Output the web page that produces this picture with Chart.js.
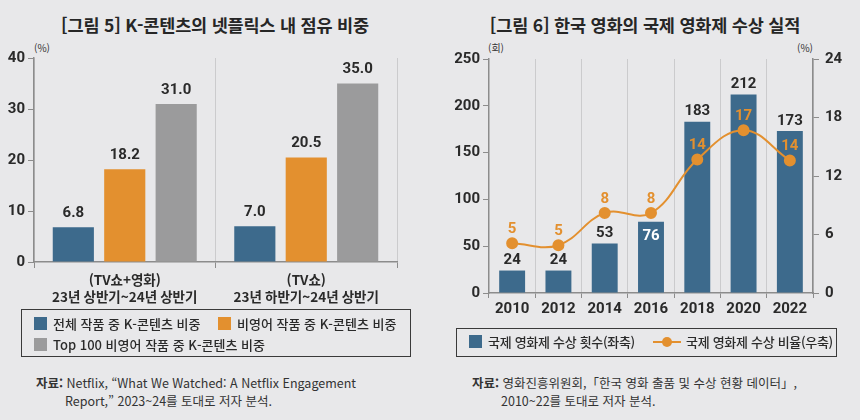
<!DOCTYPE html>
<html lang="ko">
<head>
<meta charset="utf-8">
<script src="https://cdn.jsdelivr.net/npm/chart.js@4/dist/chart.umd.min.js"></script>
<style>
    body {
        margin: 0;
        width: 860px;
        height: 420px;
        background: #e8e8ea;
        position: relative;
        overflow: hidden;
        font-family: "Noto Sans CJK KR", sans-serif;
        color: #2a2a2a;
    }
    .title {
        position: absolute;
        top: 12px;
        width: 430px;
        text-align: center;
        font-weight: 700;
        font-size: 17.5px;
        letter-spacing: -0.2px;
        color: #262626;
    }
    .unit {
        position: absolute;
        top: 40px;
        font-size: 10px;
        color: #333;
    }
    canvas { position: absolute; top: 0; }
    .legend {
        position: absolute;
        border: 1.5px solid #3a3a3a;
        box-sizing: border-box;
        font-size: 13px;
        font-weight: 500;
        color: #2a2a2a;
    }
    .item { position: absolute; display: flex; align-items: center; white-space: nowrap; }
    .box { width: 13px; height: 13px; margin-right: 6px; }
    .note {
        position: absolute;
        font-size: 12.5px;
        line-height: 18px;
        color: #333;
    }
    .note b { font-weight: 700; }
</style>
</head>
<body>
<div class="title" style="left:0">[그림 5] K-콘텐츠의 넷플릭스 내 점유 비중</div>
<div class="title" style="left:430px">[그림 6] 한국 영화의 국제 영화제 수상 실적</div>
<div class="unit" style="left:34px">(%)</div>
<div class="unit" style="left:488px">(회)</div>
<div class="unit" style="left:797px">(%)</div>

<canvas id="shareChart" width="430" height="310" style="left:0"></canvas>
<canvas id="awardChart" width="430" height="320" style="left:430px"></canvas>

<div class="legend" id="shareLegend" style="left:21px;top:309px;width:390px;height:48px"></div>
<div class="legend" id="awardLegend" style="left:456px;top:328px;width:381px;height:29px;letter-spacing:-0.3px"></div>

<div class="note" style="left:36px;top:374px">
    <b>자료:</b> Netflix, “What We Watched: A Netflix Engagement<br>
    <span style="padding-left:29px">Report,” 2023~24를 토대로 저자 분석.</span>
</div>
<div class="note" style="left:472px;top:374px">
    <b>자료:</b> 영화진흥위원회,「한국 영화 출품 및 수상 현황 데이터」,<br>
    <span style="padding-left:29px">2010~22를 토대로 저자 분석.</span>
</div>

<script>
// [그림 5] data
const shareGroups = [['(TV쇼+영화)', '23년 상반기~24년 상반기'], ['(TV쇼)', '23년 하반기~24년 상반기']];
const shareSeriesNames = ['전체 작품 중 K-콘텐츠 비중', '비영어 작품 중 K-콘텐츠 비중', 'Top 100 비영어 작품 중 K-콘텐츠 비중'];
const totalShare = [6.8, 7.0];
const nonEnglishShare = [18.2, 20.5];
const top100Share = [31.0, 35.0];
const shareTicks = [0, 10, 20, 30, 40];

// [그림 6] data
const years = ['2010', '2012', '2014', '2016', '2018', '2020', '2022'];
const awardSeriesNames = ['국제 영화제 수상 횟수(좌축)', '국제 영화제 수상 비율(우축)'];
const awardCounts = [24, 24, 53, 76, 183, 212, 173];
const awardRatio = [5.1, 4.9, 8.2, 8.2, 13.7, 16.7, 13.6];
const countTicks = [0, 50, 100, 150, 200, 250];
const ratioTicks = [0, 6, 12, 18, 24];

const BLUE = '#3d6a8c';
const ORANGE = '#e3902f';
const GRAY = '#9b9b9c';
const AXIS = '#8c8c8c';
const GRID = '#cbcbcd';
const NUM_FONT = 'Roboto, sans-serif';

// draws value labels for every element of a dataset that has a valueLabel option
const valueLabels = {
    id: 'valueLabels',
    afterDatasetsDraw(chart) {
        const ctx = chart.ctx;
        chart.data.datasets.forEach((ds, i) => {
            const opt = ds.valueLabel;
            if (!opt) return;
            const meta = chart.getDatasetMeta(i);
            meta.data.forEach((el, j) => {
                const color = Array.isArray(opt.color) ? opt.color[j] : opt.color;
                const dy = Array.isArray(opt.dy) ? opt.dy[j] : opt.dy;
                ctx.save();
                ctx.font = opt.font;
                ctx.fillStyle = color;
                ctx.textAlign = 'center';
                ctx.textBaseline = 'middle';
                ctx.fillText(opt.format(ds.data[j]), el.x, el.y + dy);
                ctx.restore();
            });
        });
    }
};

function tickOptions(size) {
    return { font: { family: NUM_FONT, weight: 'bold', size: size }, color: '#2a2a2a' };
}

new Chart(document.getElementById('shareChart'), {
    type: 'bar',
    data: {
        labels: shareGroups,
        datasets: [totalShare, nonEnglishShare, top100Share].map((values, i) => ({
            label: shareSeriesNames[i],
            data: values,
            backgroundColor: [BLUE, ORANGE, GRAY][i],
            barPercentage: 0.8,
            categoryPercentage: 0.85,
            valueLabel: {
                font: 'bold 15px ' + NUM_FONT,
                color: '#2a2a2a',
                dy: -14,
                format: v => v.toFixed(1)
            }
        }))
    },
    options: {
        responsive: false,
        animation: false,
        layout: { padding: { top: 58, right: 33, left: 0, bottom: 0 } },
        plugins: { legend: { display: false }, tooltip: { enabled: false } },
        scales: {
            x: {
                grid: { color: GRID, tickLength: 6, tickColor: AXIS },
                border: { color: AXIS, width: 1.5 },
                ticks: {
                    font: { family: '"Noto Sans CJK KR"', weight: 'bold', size: 13.5, lineHeight: 1.3 },
                    color: '#2a2a2a',
                    padding: 3
                },
                afterFit: s => { s.height = 48; }
            },
            y: {
                min: shareTicks[0],
                max: shareTicks[shareTicks.length - 1],
                afterBuildTicks: s => { s.ticks = shareTicks.map(v => ({ value: v })); },
                grid: { drawOnChartArea: false, tickLength: 6, color: AXIS },
                border: { color: AXIS, width: 1.5 },
                ticks: Object.assign(tickOptions(15), { padding: 3 }),
                afterFit: s => { s.width = 34; }
            }
        }
    },
    plugins: [valueLabels]
});

new Chart(document.getElementById('awardChart'), {
    type: 'bar',
    data: {
        labels: years,
        datasets: [{
            type: 'line',
            label: awardSeriesNames[1],
            data: awardRatio,
            yAxisID: 'y1',
            borderColor: ORANGE,
            borderWidth: 2,
            pointBackgroundColor: ORANGE,
            pointBorderColor: ORANGE,
            pointRadius: 5,
            tension: 0.4,
            order: 0,
            valueLabel: {
                font: 'bold 15px ' + NUM_FONT,
                color: ORANGE,
                dy: -14,
                format: v => Math.round(v)
            }
        }, {
            type: 'bar',
            label: awardSeriesNames[0],
            data: awardCounts,
            yAxisID: 'y',
            backgroundColor: BLUE,
            barPercentage: 0.56,
            categoryPercentage: 1,
            order: 1,
            valueLabel: {
                font: 'bold 15px ' + NUM_FONT,
                color: ['#2a2a2a', '#2a2a2a', '#2a2a2a', '#ffffff', '#2a2a2a', '#2a2a2a', '#2a2a2a'],
                dy: [-10, -10, -10, 14, -10, -10, -10],
                format: v => v
            }
        }]
    },
    options: {
        responsive: false,
        animation: false,
        layout: { padding: { top: 59, right: 0, left: 0, bottom: 0 } },
        plugins: { legend: { display: false }, tooltip: { enabled: false } },
        scales: {
            x: {
                grid: { color: GRID, tickLength: 5, tickColor: AXIS },
                border: { color: AXIS, width: 1.5 },
                ticks: Object.assign(tickOptions(15), { padding: 2 }),
                afterFit: s => { s.height = 27; }
            },
            y: {
                position: 'left',
                min: countTicks[0],
                max: countTicks[countTicks.length - 1],
                afterBuildTicks: s => { s.ticks = countTicks.map(v => ({ value: v })); },
                grid: { drawOnChartArea: false, tickLength: 6, color: AXIS },
                border: { color: AXIS, width: 1.5 },
                ticks: Object.assign(tickOptions(15), { padding: 3 }),
                afterFit: s => { s.width = 59; }
            },
            y1: {
                position: 'right',
                min: ratioTicks[0],
                max: ratioTicks[ratioTicks.length - 1],
                afterBuildTicks: s => { s.ticks = ratioTicks.map(v => ({ value: v })); },
                grid: { drawOnChartArea: false, tickLength: 6, color: AXIS },
                border: { color: AXIS, width: 1.5 },
                ticks: Object.assign(tickOptions(15), { padding: 6 }),
                afterFit: s => { s.width = 47; }
            }
        }
    },
    plugins: [valueLabels]
});

// HTML legends
function boxItem(color, text, left, top) {
    return '<div class="item" style="left:' + left + 'px;top:' + top + 'px">' +
        '<span class="box" style="background:' + color + '"></span>' + text + '</div>';
}

document.getElementById('shareLegend').innerHTML =
    boxItem(BLUE, shareSeriesNames[0], 12, 4) +
    boxItem(ORANGE, shareSeriesNames[1], 196, 4) +
    boxItem(GRAY, shareSeriesNames[2], 12, 25);

document.getElementById('awardLegend').innerHTML =
    boxItem(BLUE, awardSeriesNames[0], 12, 3) +
    '<div class="item" style="left:196px;top:3px">' +
    '<svg width="28" height="14" style="margin-right:5px"><line x1="0" y1="7" x2="28" y2="7" stroke="' + ORANGE + '" stroke-width="2"/>' +
    '<circle cx="14" cy="7" r="5" fill="' + ORANGE + '"/></svg>' + awardSeriesNames[1] + '</div>';
</script>
</body>
</html>
